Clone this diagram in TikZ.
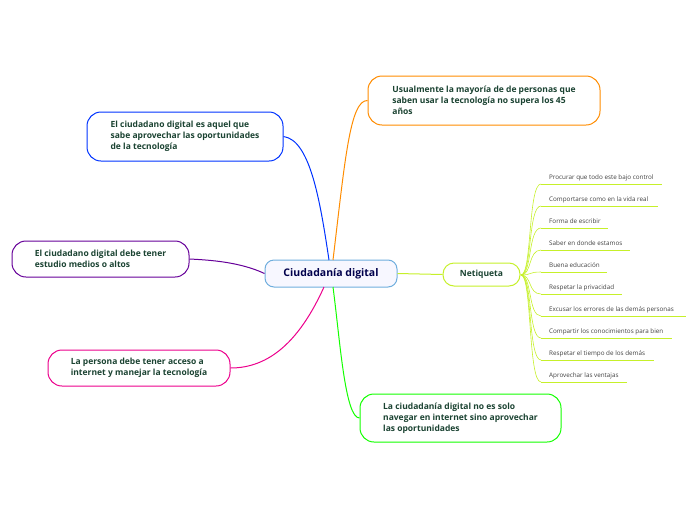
\documentclass[tikz,border=0pt]{standalone}
\usepackage{fontspec}
\setmainfont{Open Sans}
\begin{document}
\begin{tikzpicture}[x=1pt,y=-1pt,
  topic/.style={rounded corners=14pt,line width=1pt,fill=white,font=\bfseries\fontsize{8.5}{11}\selectfont,text=textc,align=left,inner xsep=20pt,inner ysep=6pt},
  leaf/.style={font=\fontsize{6.3}{8}\selectfont,text=black!75,anchor=base west,inner sep=0pt},
  ul/.style={line width=0.9pt,draw=limec},
  br/.style={line width=1pt}]
\definecolor{textc}{HTML}{1B4332}
\definecolor{limec}{HTML}{C6F02A}
\definecolor{centc}{HTML}{6FAEDD}
\useasboundingbox (0,0) rectangle (696,520);
\node[draw=centc,fill=blue!3,rounded corners=9pt,line width=1pt,minimum width=132pt,minimum height=27pt,font=\bfseries\fontsize{10.5}{12}\selectfont,text=blue!30!black] (c) at (331,273.5) {Ciudadanía digital};
\node[topic,draw=orange!90!yellow,minimum width=232pt,minimum height=49pt] (o) at (484,100.5) {Usualmente la mayoría de de personas que\\saben usar la tecnología no supera los 45\\años};
\node[topic,draw=blue!80!cyan,minimum width=196pt,minimum height=49pt] (b) at (185,136.5) {El ciudadano digital es aquel que\\sabe aprovechar las oportunidades\\de la tecnología};
\node[topic,draw=violet!80!blue,minimum width=177pt,minimum height=36pt] (p) at (100.5,259) {El ciudadano digital debe tener\\estudio medios o altos};
\node[topic,draw=magenta,minimum width=182pt,minimum height=36pt] (m) at (139,368) {La persona debe tener acceso a\\internet y manejar la tecnología};
\node[topic,draw=green!90!lime,minimum width=201pt,minimum height=48pt] (g) at (460.5,418) {La ciudadanía digital no es solo\\navegar en internet sino aprovechar\\las oportunidades};
\node[draw=limec,fill=white,rounded corners=11pt,line width=1pt,minimum width=77pt,minimum height=23pt,font=\bfseries\fontsize{8.5}{10}\selectfont,text=textc] (n) at (481.5,274.5) {Netiqueta};
\draw[br,blue!80!cyan] (329,260) .. controls (320,200) and (310,140) .. (b.east);
\draw[br,orange!90!yellow] (333,260) .. controls (345,160) and (350,100) .. (o.west);
\draw[br,violet!80!blue] (c.west) .. controls (240,262) and (210,260) .. (p.east);
\draw[br,magenta] (324,287) .. controls (300,340) and (270,368) .. (m.east);
\draw[br,green!90!lime] (333,287) .. controls (340,340) and (345,418) .. (g.west);
\draw[br,limec] (c.east) -- (n.west);
\coordinate (h) at (521,275);
\foreach \i/\t/\e in {0/Procurar que todo este bajo control/662,1/Comportarse como en la vida real/658,2/Forma de escribir/608,3/Saber en donde estamos/630,4/Buena educación/607,5/Respetar la privacidad/622,6/Excusar los errores de las demás personas/686,7/Compartir los conocimientos para bien/672,8/Respetar el tiempo de los demás/654,9/Aprovechar las ventajas/627}{
  \pgfmathsetmacro\yy{184+22*\i}
  \node[leaf] (l\i) at (549,\yy-5) {\t};
  \coordinate (s\i) at (541,\yy);
  \coordinate (t\i) at (\e,\yy);
  \draw[ul] (s\i) -- (t\i);
  \draw[limec,line width=0.6pt] (h) .. controls (532,275) and (528,\yy) .. (s\i);
}
\end{tikzpicture}
\end{document}
